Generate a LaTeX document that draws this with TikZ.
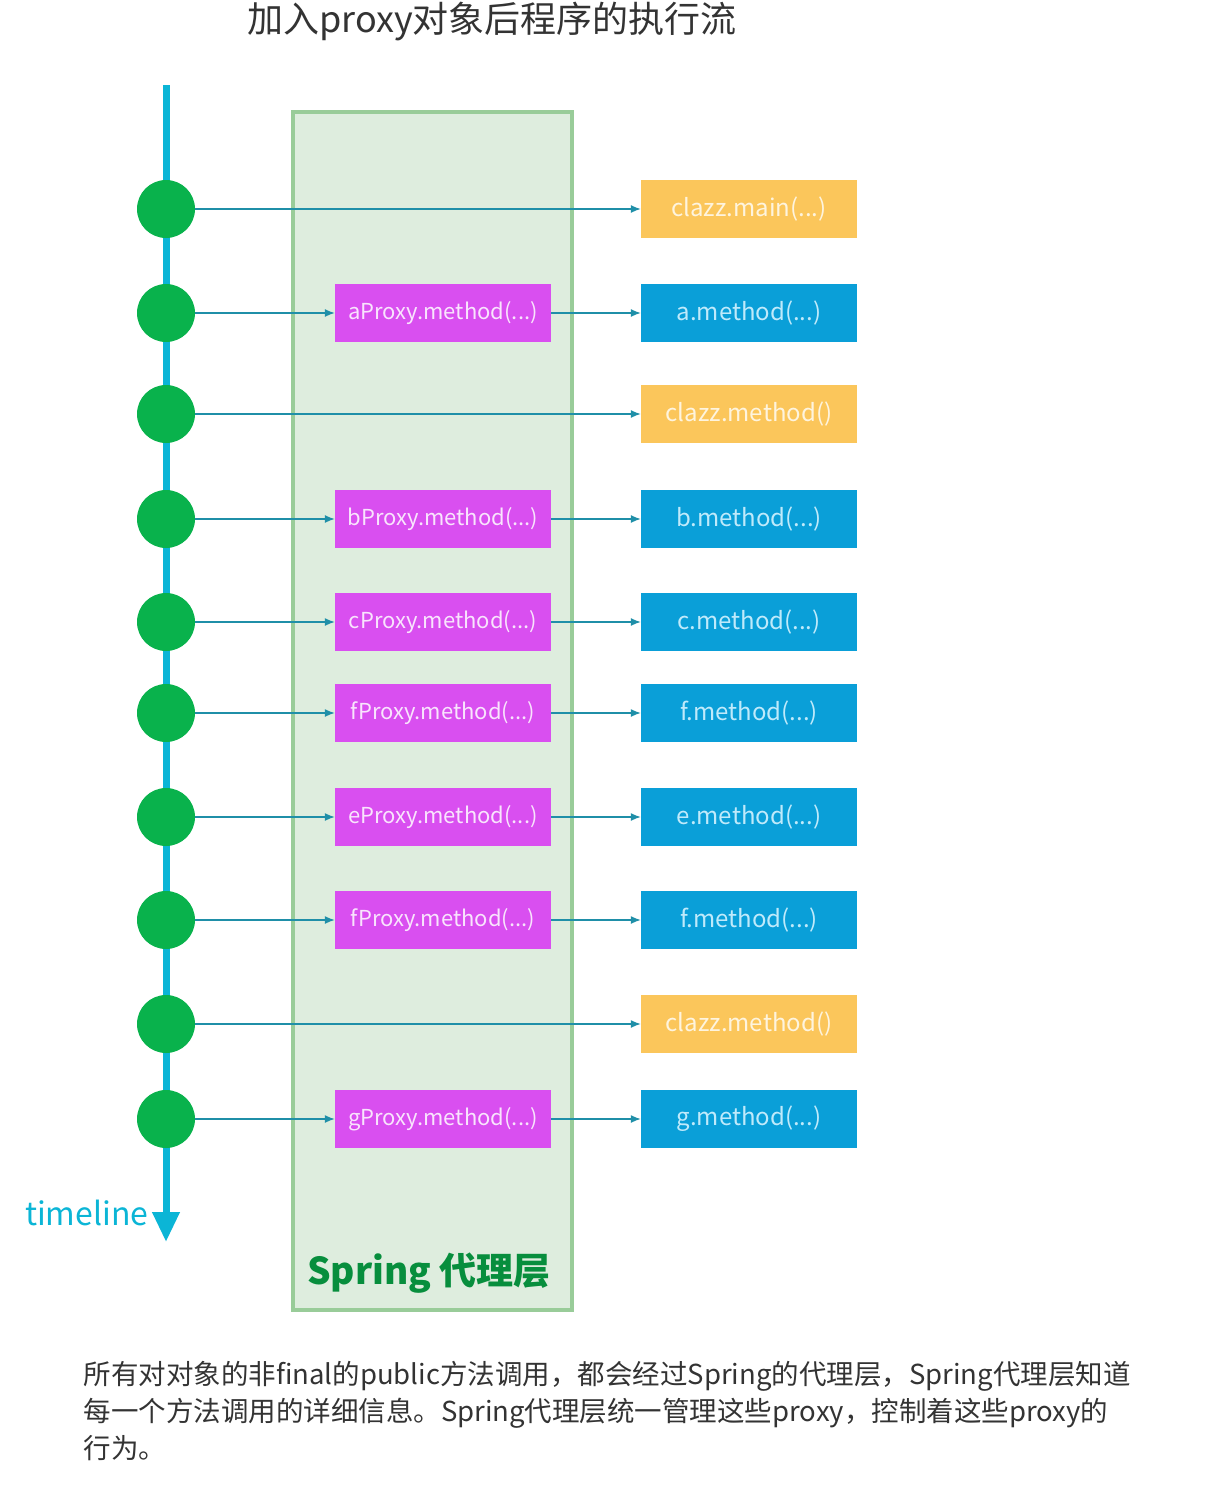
\documentclass[tikz,border=0pt]{standalone}
\usepackage{fontspec}
\setmainfont{Noto Sans CJK SC}
\usetikzlibrary{arrows.meta}
\definecolor{tl}{HTML}{0BB5D6}
\definecolor{dot}{HTML}{09B24C}
\definecolor{prx}{HTML}{D94FF0}
\definecolor{blu}{HTML}{0A9FD8}
\definecolor{org}{HTML}{FBC65B}
\definecolor{arr}{HTML}{1F8FA8}
\newcommand\myel{.{}.{}.}
\begin{document}
\begin{tikzpicture}[x=1pt,y=-1pt,
  dotn/.style={circle,fill=dot,minimum size=58pt,inner sep=0},
  pbox/.style={fill=prx,minimum width=216pt,minimum height=58pt,inner sep=0,text=white!85!prx,font=\fontsize{22}{24}\selectfont},
  bbox/.style={fill=blu,minimum width=216pt,minimum height=58pt,inner sep=0,text=white!75!cyan,font=\fontsize{24}{26}\selectfont},
  obox/.style={fill=org,minimum width=216pt,minimum height=58pt,inner sep=0,text=white!80!org,font=\fontsize{24}{26}\selectfont},
  con/.style={draw=arr,line width=1.3pt,-{Latex[length=10pt,width=8pt]}}]
\useasboundingbox (0,0) rectangle (1222,1502);
\node[font=\fontsize{36}{40}\selectfont,text=black!80] (title) at (492,22) {加入proxy对象后程序的执行流};
\node[draw=green!50!black!40,fill=green!30!gray!20,line width=4pt,minimum width=279pt,minimum height=1198pt,inner sep=0] (spring) at (432.5,711) {};
\node[font=\bfseries\fontsize{37}{40}\selectfont,text=dot!80!black] (slabel) at (429,1273) {Spring 代理层};
\coordinate (tltop) at (166,85);
\coordinate (tlbot) at (166,1242);
\draw[tl,line width=7pt,-{Triangle[length=30pt,width=26pt]}] (tltop) -- (tlbot);
\node[text=tl,font=\fontsize{32}{36}\selectfont,anchor=east] (tlabel) at (152,1213) {timeline};
\foreach \i/\y/\kind/\t/\p in {
 1/209/o/{clazz.main(\myel)}/{},
 2/313/b/{a.method(\myel)}/{aProxy.method(\myel)},
 3/414/o/{clazz.method()}/{},
 4/519/b/{b.method(\myel)}/{bProxy.method(\myel)},
 5/622/b/{c.method(\myel)}/{cProxy.method(\myel)},
 6/713/b/{f.method(\myel)}/{fProxy.method(\myel)},
 7/817/b/{e.method(\myel)}/{eProxy.method(\myel)},
 8/920/b/{f.method(\myel)}/{fProxy.method(\myel)},
 9/1024/o/{clazz.method()}/{},
 10/1119/b/{g.method(\myel)}/{gProxy.method(\myel)}}{
  \node[dotn] (d\i) at (166,\y) {};
  \if o\kind
    \node[obox] (t\i) at (749,\y) {\t};
    \draw[con] (d\i) -- (t\i);
  \else
    \node[bbox] (t\i) at (749,\y) {\t};
    \node[pbox] (p\i) at (443,\y) {\p};
    \draw[con] (d\i) -- (p\i);
    \draw[con] (p\i) -- (t\i);
  \fi
}
\node[anchor=north west,align=left,text width=1110pt,font=\fontsize{27.5}{37}\selectfont,text=black!80] (note) at (80,1358) {所有对对象的非final的public方法调用，都会经过Spring的代理层，Spring代理层知道\\每一个方法调用的详细信息。Spring代理层统一管理这些proxy，控制着这些proxy的\\行为。};
\end{tikzpicture}
\end{document}
